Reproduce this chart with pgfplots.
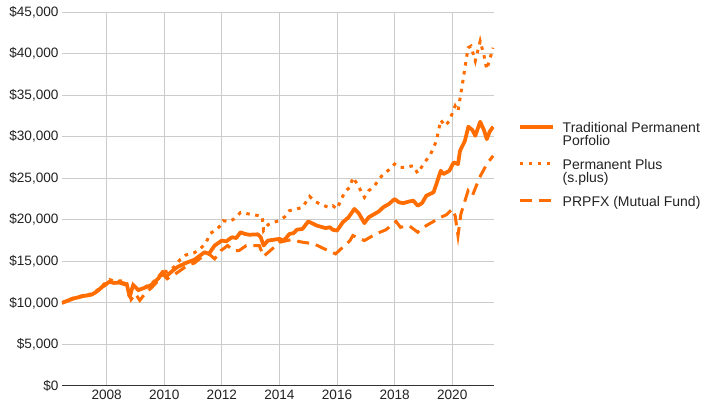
\documentclass[border=0pt]{standalone}
\usepackage{fontspec}
\setmainfont{Liberation Sans}
\usepackage{pgfplots}
\pgfplotsset{compat=1.18}
\definecolor{gorange}{RGB}{255,109,1}
\definecolor{gridgray}{RGB}{204,204,204}
\definecolor{txt}{RGB}{34,34,34}
\pgfplotsset{
  oneline image/.style={legend image code/.code={\draw[##1] (0bp,5.7bp) -- (33bp,5.7bp);}},
  twoline image/.style={legend image code/.code={\draw[##1] (0bp,18.4bp) -- (33bp,18.4bp);}},
}

\begin{document}
\begin{tikzpicture}
\useasboundingbox (0,0) rectangle (704bp,410bp);
\begin{axis}[
  at={(62bp,24bp)}, anchor=south west,
  width=432bp, height=374bp, scale only axis,
  xmin=2006.45, xmax=2021.45, ymin=0, ymax=45000,
  xtick={2008,2010,...,2020}, ytick={0,5000,...,45000},
  scaled ticks=false,
  grid=major, grid style={draw=gridgray, line width=1bp},
  axis lines*=left,
  x axis line style={-, draw=black!80, line width=1bp},
  y axis line style={draw=none},
  major tick length=0pt,
  tick label style={font=\fontsize{13.6bp}{15bp}\selectfont, text=txt,
    /pgf/number format/assume math mode=true},
  yticklabel={\$\pgfmathprintnumber[fixed,1000 sep={,}]{\tick}},
  xticklabel style={/pgf/number format/1000 sep={}},
  legend style={draw=none, fill=none, at={(1.0555,0.705)}, anchor=north west,
    font=\fontsize{14bp}{12.7bp}\selectfont, text=txt,
    row sep=12.5bp, inner sep=0pt, outer sep=0pt,
    /tikz/every odd column/.append style={column sep=8bp},
    nodes={inner sep=0pt, align=left},
    cells={anchor=base west}},
  oneline image,
]
% Traditional Permanent Portfolio
\addplot[gorange, line width=3.75bp, line join=round, twoline image] coordinates {
(2006.45,10000) (2006.6,10200) (2006.85,10540) (2007.0,10650) (2007.2,10860)
(2007.35,10900) (2007.5,11030) (2007.65,11350) (2007.85,11950) (2008.1,12550)
(2008.25,12400) (2008.45,12470) (2008.6,12350) (2008.7,12230) (2008.8,10740)
(2008.92,12150) (2009.1,11550) (2009.33,11830) (2009.55,12150) (2009.8,12950)
(2009.95,13750) (2010.05,13150) (2010.25,13750) (2010.45,14300) (2010.75,14800)
(2011.05,15200) (2011.4,16100) (2011.55,15900) (2011.75,16900) (2012.0,17500)
(2012.15,17400) (2012.35,17900) (2012.5,17800) (2012.65,18500) (2012.8,18300)
(2012.95,18200) (2013.25,18250) (2013.35,17900) (2013.45,16900) (2013.6,17500)
(2013.8,17600) (2014.0,17700) (2014.15,17500) (2014.35,18300) (2014.5,18400)
(2014.6,18800) (2014.8,18900) (2015.0,19800) (2015.3,19300) (2015.6,19000)
(2015.75,19100) (2015.85,18800) (2016.0,18700) (2016.2,19700) (2016.4,20300)
(2016.6,21300) (2016.75,20800) (2016.95,19600) (2017.1,20300) (2017.3,20700)
(2017.45,21000) (2017.6,21500) (2017.8,21900) (2018.0,22500) (2018.15,22100)
(2018.3,22000) (2018.5,22200) (2018.65,22300) (2018.8,21700) (2018.95,22000)
(2019.1,22900) (2019.35,23300) (2019.45,24300) (2019.6,25900) (2019.7,25500)
(2019.9,25900) (2020.05,26900) (2020.2,26700) (2020.27,28300) (2020.44,29500)
(2020.56,31200) (2020.7,30800) (2020.8,30100) (2020.97,31800) (2021.1,30800)
(2021.2,29700) (2021.3,30600) (2021.42,31200)
};
\addlegendentry{Traditional Permanent\\Porfolio}
% Permanent Plus
\addplot[gorange, line width=3bp, dash pattern=on 3.5bp off 5.5bp, twoline image] coordinates {
(2006.45,10000) (2006.85,10600) (2007.2,10900) (2007.5,11100) (2007.65,11450)
(2007.85,12100) (2008.1,12800) (2008.3,12600) (2008.5,12650) (2008.7,12350)
(2008.8,10500) (2008.92,12200) (2009.1,11500) (2009.33,11900) (2009.55,12300)
(2009.8,13100) (2009.95,13900) (2010.1,13750) (2010.35,14350) (2010.55,15200)
(2010.75,15760) (2011.05,16040) (2011.25,16500) (2011.45,17240) (2011.6,18370)
(2011.8,18770) (2011.97,19370) (2012.05,19890) (2012.25,19770) (2012.4,20050)
(2012.65,20890) (2012.95,20690) (2013.3,20490) (2013.4,20400) (2013.45,18700)
(2013.6,19400) (2013.8,19700) (2014.0,19900) (2014.2,20400) (2014.35,21100)
(2014.6,21300) (2014.8,21500) (2015.05,22800) (2015.2,22300) (2015.4,21900)
(2015.7,21500) (2015.85,21700) (2016.0,21300) (2016.15,22500) (2016.3,23500)
(2016.45,23900) (2016.55,25100) (2016.7,24300) (2016.95,22700) (2017.1,23500)
(2017.3,24100) (2017.6,25500) (2017.8,26000) (2018.0,26700) (2018.15,26300)
(2018.3,26300) (2018.5,26400) (2018.65,26500) (2018.8,25600) (2019.0,26700)
(2019.25,27900) (2019.45,29500) (2019.6,32000) (2019.75,31300) (2019.9,31900)
(2020.1,33700) (2020.2,33100) (2020.37,36700) (2020.55,40700) (2020.65,40900)
(2020.8,39100) (2020.97,41500) (2021.1,39800) (2021.2,38100) (2021.42,40700)
};
\addlegendentry{Permanent Plus\\(s.plus)}
% PRPFX
\addplot[gorange, line width=3bp, dash pattern=on 12bp off 7bp] coordinates {
(2006.45,10000) (2006.85,10500) (2007.2,10800) (2007.5,11000) (2007.65,11300)
(2007.85,11900) (2008.1,12500) (2008.45,12400) (2008.7,12100) (2008.85,10400)
(2009.0,11100) (2009.15,10300) (2009.35,11200) (2009.55,11800) (2009.8,12700)
(2009.95,13500) (2010.1,12900) (2010.35,13400) (2010.6,14000) (2010.8,14500)
(2011.05,14800) (2011.3,15500) (2011.55,15900) (2011.75,15300) (2011.97,16300)
(2012.2,16900) (2012.4,16300) (2012.6,16300) (2012.85,16900) (2013.05,16900)
(2013.3,16900) (2013.45,15600) (2013.75,16500) (2014.0,17300) (2014.4,17600)
(2014.8,17300) (2015.2,17100) (2015.5,16600) (2015.75,16200) (2015.95,15900)
(2016.2,16700) (2016.45,17500) (2016.55,18100) (2016.75,17800) (2016.95,17500)
(2017.35,18300) (2017.7,18800) (2018.05,19800) (2018.2,19100) (2018.5,19300)
(2018.8,18500) (2019.0,19100) (2019.3,19700) (2019.6,20300) (2019.8,20600)
(2020.0,21300) (2020.1,20500) (2020.2,18100) (2020.3,20700) (2020.55,23500)
(2020.7,22900) (2020.95,25100) (2021.2,26700) (2021.42,27700)
};
\addlegendentry{PRPFX (Mutual Fund)}
\end{axis}
\end{tikzpicture}
\end{document}
